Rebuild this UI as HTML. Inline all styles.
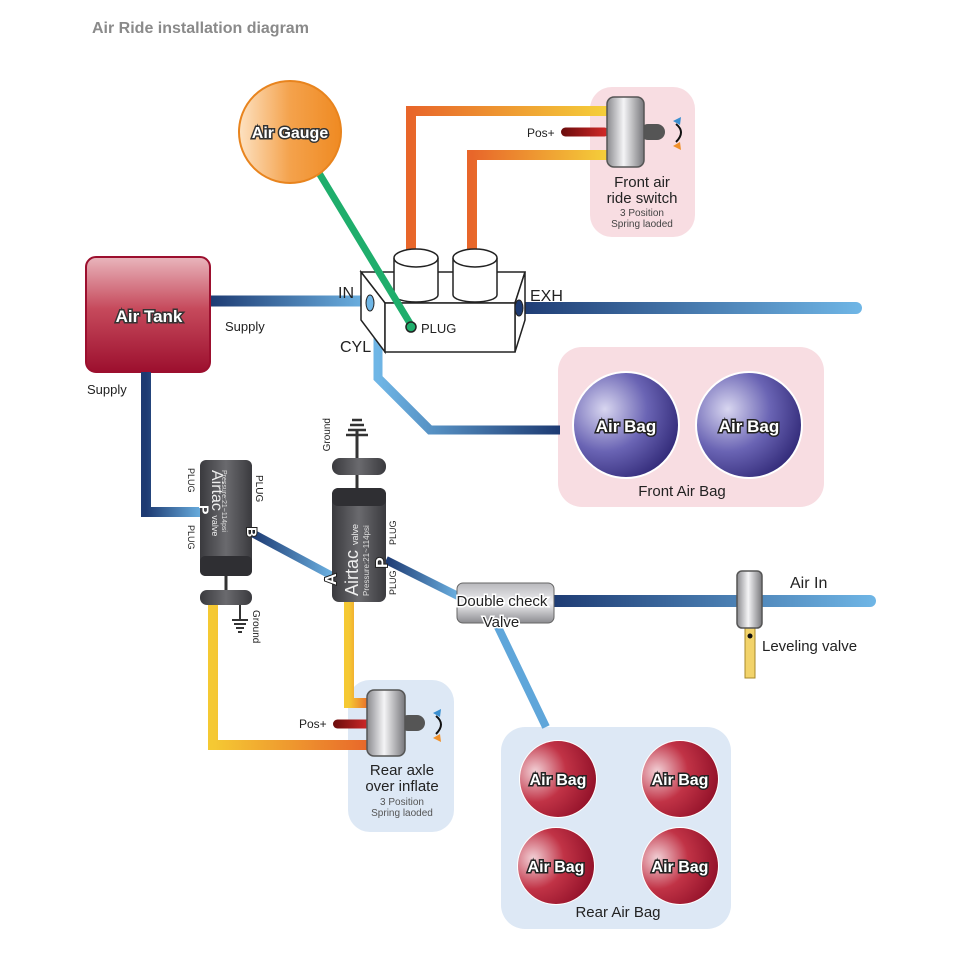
<!DOCTYPE html>
<html><head><meta charset="utf-8"><style>
html,body{margin:0;padding:0;background:#fff;}
svg{display:block;}
text{font-family:"Liberation Sans",sans-serif;}
</style></head><body>
<svg width="960" height="960" viewBox="0 0 960 960" xmlns="http://www.w3.org/2000/svg">
<defs>
<linearGradient id="navyLight" x1="0" x2="1" y1="0" y2="0"><stop offset="0" stop-color="#1d3a72"/><stop offset="1" stop-color="#6fb6e6"/></linearGradient>
<linearGradient id="lightNavy" x1="0" x2="1" y1="0" y2="0"><stop offset="0" stop-color="#6fb6e6"/><stop offset="1" stop-color="#1d3a72"/></linearGradient>
<linearGradient id="orYel" x1="0" x2="1"><stop offset="0" stop-color="#e8662a"/><stop offset="1" stop-color="#f5cf3a"/></linearGradient>
<linearGradient id="yelOr" x1="0" x2="1"><stop offset="0" stop-color="#f5c933"/><stop offset="1" stop-color="#e8662a"/></linearGradient>
<linearGradient id="red" x1="0" x2="1"><stop offset="0" stop-color="#6a0c0c"/><stop offset="1" stop-color="#d62a2a"/></linearGradient>
<linearGradient id="tank" x1="0" x2="0" y1="0" y2="1"><stop offset="0" stop-color="#e9b5bc"/><stop offset="0.45" stop-color="#c64a5c"/><stop offset="1" stop-color="#9c0f2e"/></linearGradient>
<linearGradient id="gauge" x1="0" x2="1"><stop offset="0" stop-color="#fde2c2"/><stop offset="0.5" stop-color="#f4a24c"/><stop offset="1" stop-color="#ef8a22"/></linearGradient>
<radialGradient id="purple" cx="0.3" cy="0.35" r="0.8"><stop offset="0" stop-color="#d8d6f0"/><stop offset="0.5" stop-color="#6a64b4"/><stop offset="1" stop-color="#2a2270"/></radialGradient>
<radialGradient id="redbag" cx="0.2" cy="0.4" r="0.9"><stop offset="0" stop-color="#f2d0d6"/><stop offset="0.45" stop-color="#c13346"/><stop offset="1" stop-color="#8a0b24"/></radialGradient>
<linearGradient id="metal" x1="0" x2="1"><stop offset="0" stop-color="#8a8a8e"/><stop offset="0.45" stop-color="#f4f4f6"/><stop offset="1" stop-color="#77777b"/></linearGradient>
<linearGradient id="dark" x1="0" x2="1"><stop offset="0" stop-color="#3a3a3e"/><stop offset="0.5" stop-color="#6a6a6e"/><stop offset="1" stop-color="#3a3a3e"/></linearGradient>
<linearGradient id="dcv" x1="0" x2="0" y1="0" y2="1"><stop offset="0" stop-color="#b8b8bc"/><stop offset="0.5" stop-color="#f0f0f2"/><stop offset="1" stop-color="#8c8c90"/></linearGradient>
</defs>

<text x="92" y="33" font-size="16" font-weight="bold" fill="#8a8a8a">Air Ride installation diagram</text>

<!-- background boxes -->
<rect x="590" y="87" width="105" height="150" rx="22" fill="#f8dde2"/>
<rect x="558" y="347" width="266" height="160" rx="24" fill="#f8dde2"/>
<rect x="348" y="680" width="106" height="152" rx="22" fill="#dde8f5"/>
<rect x="501" y="727" width="230" height="202" rx="24" fill="#dde8f5"/>

<!-- orange wires to front switch -->
<path d="M411 250 V111 H607" fill="none" stroke="url(#orYel)" stroke-width="10"/>
<path d="M472 250 V155 H607" fill="none" stroke="url(#orYel)" stroke-width="10"/>
<rect x="561" y="127.5" width="48" height="9" rx="4.5" fill="url(#red)"/>
<text x="527" y="137" font-size="12" fill="#222">Pos+</text>

<!-- front switch -->
<rect x="640" y="124" width="25" height="16" rx="8" fill="#555"/>
<rect x="607" y="97" width="37" height="70" rx="7" fill="url(#metal)" stroke="#555" stroke-width="1.5"/>
<path d="M676 124 q10 8 0 18" fill="none" stroke="#111" stroke-width="2"/>
<path d="M673 121 l8 -4 l-1 8z" fill="#3a8fd0"/><path d="M673 146 l8 4 l-1 -8z" fill="#f0902a"/>
<text x="642" y="187" font-size="15" text-anchor="middle" fill="#222">Front air</text>
<text x="642" y="203" font-size="15" text-anchor="middle" fill="#222">ride switch</text>
<text x="642" y="216" font-size="10" text-anchor="middle" fill="#444">3 Position</text>
<text x="642" y="227" font-size="10" text-anchor="middle" fill="#444">Spring laoded</text>

<!-- supply line tank -> IN -->
<rect x="208" y="295.5" width="164" height="11" fill="url(#navyLight)"/>
<text x="338" y="298" font-size="16" fill="#222">IN</text>
<text x="225" y="331" font-size="13" fill="#222">Supply</text>
<!-- EXH line -->
<rect x="514" y="302" width="348" height="12" rx="6" fill="url(#navyLight)"/>
<text x="530" y="301" font-size="16" fill="#222">EXH</text>
<!-- CYL line -->
<path d="M378 316 V378 L430 430 H560" fill="none" stroke="url(#lightNavy)" stroke-width="9"/>
<text x="340" y="352" font-size="16" fill="#222">CYL</text>

<!-- block -->
<polygon points="361,272 525,272 515,303 385,303" fill="#fff" stroke="#222" stroke-width="1.5"/>
<polygon points="361,272 385,303 385,352 361,320" fill="#fff" stroke="#222" stroke-width="1.5"/>
<polygon points="525,272 515,303 515,352 525,320" fill="#fff" stroke="#222" stroke-width="1.5"/>
<rect x="385" y="303" width="130" height="49" fill="#fff" stroke="#222" stroke-width="1.5"/>
<ellipse cx="370" cy="303" rx="4" ry="8" fill="#6fb6e6" stroke="#222"/>
<ellipse cx="519" cy="308" rx="4" ry="8" fill="#1d3a72" stroke="#222"/>
<!-- cylinders -->
<path d="M394 258 V295 A22 7 0 0 0 438 295 V258" fill="#fff" stroke="#222" stroke-width="1.5"/>
<ellipse cx="416" cy="258" rx="22" ry="9" fill="#fff" stroke="#222" stroke-width="1.5"/>
<path d="M453 258 V295 A22 7 0 0 0 497 295 V258" fill="#fff" stroke="#222" stroke-width="1.5"/>
<ellipse cx="475" cy="258" rx="22" ry="9" fill="#fff" stroke="#222" stroke-width="1.5"/>
<!-- gauge line -->
<line x1="316" y1="168" x2="411" y2="325" stroke="#1fae6c" stroke-width="7"/>
<circle cx="411" cy="327" r="5" fill="#1fae6c" stroke="#222" stroke-width="1.5"/>
<text x="421" y="333" font-size="13" fill="#222">PLUG</text>

<!-- gauge -->
<circle cx="290" cy="132" r="51" fill="url(#gauge)" stroke="#e8841e" stroke-width="2"/>
<text x="290" y="138" font-size="16" font-weight="bold" text-anchor="middle" fill="#fff" stroke="#333" stroke-width="3" paint-order="stroke">Air Gauge</text>

<!-- tank -->
<rect x="86" y="257" width="124" height="115" rx="10" fill="url(#tank)" stroke="#9c0f2e" stroke-width="2"/>
<text x="149" y="322" font-size="17" font-weight="bold" text-anchor="middle" fill="#fff" stroke="#333" stroke-width="3" paint-order="stroke">Air Tank</text>
<path d="M146 372 V512 H205" fill="none" stroke="url(#navyLight)" stroke-width="10"/>
<text x="87" y="394" font-size="13" fill="#222">Supply</text>

<!-- front air bags -->
<circle cx="626" cy="425" r="53" fill="url(#purple)" stroke="#fff" stroke-width="2"/>
<circle cx="749" cy="425" r="53" fill="url(#purple)" stroke="#fff" stroke-width="2"/>
<text x="626" y="432" font-size="17" font-weight="bold" text-anchor="middle" fill="#fff" stroke="#222" stroke-width="3" paint-order="stroke">Air Bag</text>
<text x="749" y="432" font-size="17" font-weight="bold" text-anchor="middle" fill="#fff" stroke="#222" stroke-width="3" paint-order="stroke">Air Bag</text>
<text x="682" y="496" font-size="15" text-anchor="middle" fill="#222">Front Air Bag</text>

<!-- yellow/orange wires to rear switch -->
<path d="M213 604 V745 H370" fill="none" stroke="url(#yelOr)" stroke-width="10"/>
<path d="M349 600 V703 H370" fill="none" stroke="url(#yelOr)" stroke-width="10"/>
<rect x="333" y="719.5" width="38" height="9" rx="4.5" fill="url(#red)"/>
<text x="299" y="728" font-size="12" fill="#222">Pos+</text>

<!-- B and P lines -->
<line x1="252" y1="533" x2="336" y2="578" stroke="url(#navyLight)" stroke-width="8"/>
<line x1="386" y1="560" x2="462" y2="598" stroke="url(#navyLight)" stroke-width="8"/>

<!-- valve 1 -->
<line x1="226" y1="575" x2="226" y2="592" stroke="#333" stroke-width="3"/>
<rect x="200" y="460" width="52" height="116" rx="6" fill="url(#dark)"/>
<rect x="200" y="556" width="52" height="20" rx="5" fill="#2f2f33"/>
<rect x="200" y="590" width="52" height="15" rx="7" fill="url(#dark)"/>
<g stroke="#333" stroke-width="2"><line x1="240" y1="605" x2="240" y2="620"/><line x1="232" y1="620" x2="248" y2="620"/><line x1="234" y1="624" x2="246" y2="624"/><line x1="236" y1="628" x2="244" y2="628"/><line x1="238" y1="632" x2="242" y2="632"/></g>
<text transform="translate(253,610) rotate(90)" font-size="10" fill="#222">Ground</text>
<text transform="translate(212,470) rotate(90)" font-size="16" fill="#eee">Airtac <tspan font-size="9">valve</tspan></text>
<text transform="translate(222,470) rotate(90)" font-size="7" fill="#ddd">Pressure:21~114psi</text>
<text transform="translate(188,468) rotate(90)" font-size="9" fill="#222">PLUG</text>
<text transform="translate(188,525) rotate(90)" font-size="9" fill="#222">PLUG</text>
<text transform="translate(256,475) rotate(90)" font-size="10" fill="#222">PLUG</text>
<text transform="translate(199,505) rotate(90)" font-size="14" font-weight="bold" fill="#fff">P</text>
<text transform="translate(247,527) rotate(90)" font-size="14" font-weight="bold" fill="#fff" stroke="#222" stroke-width="2" paint-order="stroke">B</text>

<!-- valve 2 -->
<line x1="357" y1="430" x2="357" y2="490" stroke="#333" stroke-width="3"/>
<g stroke="#333" stroke-width="2.5"><line x1="352" y1="420" x2="362" y2="420"/><line x1="350" y1="425" x2="364" y2="425"/><line x1="348" y1="430" x2="366" y2="430"/><line x1="346" y1="435" x2="368" y2="435"/></g>
<rect x="332" y="458" width="54" height="17" rx="8" fill="url(#dark)"/>
<rect x="332" y="488" width="54" height="114" rx="7" fill="url(#dark)"/>
<rect x="332" y="488" width="54" height="18" rx="6" fill="#2f2f33"/>
<text transform="translate(330,418) rotate(-90)" font-size="10" fill="#222" text-anchor="end">Ground</text>
<text transform="translate(358,596) rotate(-90)" font-size="18" fill="#eee">Airtac <tspan font-size="9">valve</tspan></text>
<text transform="translate(369,596) rotate(-90)" font-size="8" fill="#ddd">Pressure:21~114psi</text>
<text transform="translate(396,545) rotate(-90)" font-size="9" fill="#222">PLUG</text>
<text transform="translate(396,595) rotate(-90)" font-size="9" fill="#222">PLUG</text>
<text transform="translate(387,568) rotate(-90)" font-size="16" font-weight="bold" fill="#fff" stroke="#222" stroke-width="2" paint-order="stroke">P</text>
<text transform="translate(336,585) rotate(-90)" font-size="16" font-weight="bold" fill="#fff" stroke="#222" stroke-width="2" paint-order="stroke">A</text>

<!-- air in line & leveling valve -->
<rect x="548" y="595" width="328" height="12" rx="6" fill="url(#navyLight)"/>
<line x1="497" y1="625" x2="546" y2="727" stroke="#5fa6da" stroke-width="8"/>
<rect x="745" y="625" width="10" height="53" fill="#f2d36a" stroke="#a88a2a"/>
<circle cx="750" cy="636" r="2.5" fill="#111"/>
<rect x="737" y="571" width="25" height="57" rx="5" fill="url(#metal)" stroke="#555" stroke-width="1.5"/>
<text x="790" y="588" font-size="16" fill="#222">Air In</text>
<text x="762" y="651" font-size="15" fill="#222">Leveling valve</text>

<!-- double check valve -->
<rect x="457" y="583" width="97" height="40" rx="6" fill="url(#dcv)" stroke="#666"/>
<text x="502" y="606" font-size="15" text-anchor="middle" fill="#222" stroke="#fff" stroke-width="3" paint-order="stroke">Double check</text>
<text x="501" y="627" font-size="15" text-anchor="middle" fill="#222" stroke="#fff" stroke-width="3" paint-order="stroke">Valve</text>

<!-- rear switch -->
<rect x="400" y="715" width="25" height="16" rx="8" fill="#555"/>
<rect x="367" y="690" width="38" height="66" rx="7" fill="url(#metal)" stroke="#555" stroke-width="1.5"/>
<path d="M436 716 q10 8 0 18" fill="none" stroke="#111" stroke-width="2"/>
<path d="M433 713 l8 -4 l-1 8z" fill="#3a8fd0"/><path d="M433 738 l8 4 l-1 -8z" fill="#f0902a"/>
<text x="402" y="775" font-size="15" text-anchor="middle" fill="#222">Rear axle</text>
<text x="402" y="791" font-size="15" text-anchor="middle" fill="#222">over inflate</text>
<text x="402" y="805" font-size="10" text-anchor="middle" fill="#555">3 Position</text>
<text x="402" y="816" font-size="10" text-anchor="middle" fill="#555">Spring laoded</text>

<!-- rear bags -->
<g font-size="16" font-weight="bold" text-anchor="middle" fill="#fff" stroke="#222" stroke-width="3" paint-order="stroke">
<circle cx="558" cy="779" r="38" fill="url(#redbag)" stroke="#fff" stroke-width="2"/>
<circle cx="680" cy="779" r="38" fill="url(#redbag)" stroke="#fff" stroke-width="2"/>
<circle cx="556" cy="866" r="38" fill="url(#redbag)" stroke="#fff" stroke-width="2"/>
<circle cx="680" cy="866" r="38" fill="url(#redbag)" stroke="#fff" stroke-width="2"/>
<text x="558" y="785">Air Bag</text><text x="680" y="785">Air Bag</text>
<text x="556" y="872">Air Bag</text><text x="680" y="872">Air Bag</text>
</g>
<text x="618" y="917" font-size="15" text-anchor="middle" fill="#222">Rear Air Bag</text>
</svg>
</body></html>
